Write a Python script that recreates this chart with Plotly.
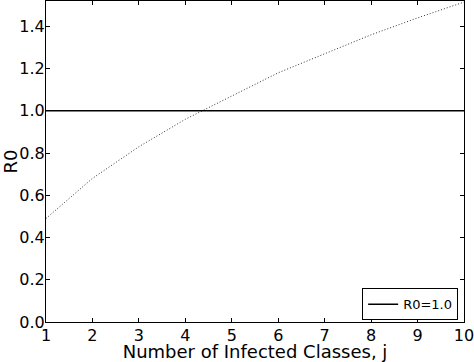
import plotly.graph_objects as go

j_values = [1, 2, 3, 4, 5, 6, 7, 8, 9, 10]
r0_values = [0.49, 0.68, 0.83, 0.96, 1.07, 1.18, 1.27, 1.36, 1.44, 1.515]
threshold = 1.0
x_ticks = [1, 2, 3, 4, 5, 6, 7, 8, 9, 10]
y_ticks = [0.0, 0.2, 0.4, 0.6, 0.8, 1.0, 1.2, 1.4]
y_tick_labels = ["0.0", "0.2", "0.4", "0.6", "0.8", "1.0", "1.2", "1.4"]

fig = go.Figure()
fig.add_trace(go.Scatter(
    x=j_values, y=r0_values, mode="lines",
    line=dict(color="#333333", width=1, dash="1px,2px"),
    showlegend=False, hoverinfo="skip"))
fig.add_trace(go.Scatter(
    x=[j_values[0], j_values[-1]], y=[threshold, threshold], mode="lines",
    line=dict(color="black", width=1.5),
    name="R0=1.0"))

fig.update_layout(
    width=474, height=362,
    margin=dict(l=46, r=10, t=1, b=40, autoexpand=False),
    paper_bgcolor="white", plot_bgcolor="white",
    font=dict(family="DejaVu Sans", size=16, color="black"),
    showlegend=True,
    legend=dict(x=0.986, y=0.005, xanchor="right", yanchor="bottom",
                bordercolor="black", borderwidth=1, bgcolor="white",
                font=dict(family="DejaVu Sans", size=13, color="black"),
                itemwidth=30, tracegroupgap=0),
    xaxis=dict(range=[1, 10], tickvals=x_ticks, ticktext=[str(v) for v in x_ticks],
               ticks="inside", ticklen=4, tickcolor="black",
               showline=True, linecolor="black", linewidth=1, mirror="ticks",
               showgrid=False, zeroline=False, automargin=False,
               ticklabeloverflow="allow", ticklabelstandoff=-1,
               title=dict(text="Number of Infected Classes, j", standoff=2,
                          font=dict(family="DejaVu Sans", size=18)),
               tickfont=dict(family="DejaVu Sans", size=16)),
    yaxis=dict(range=[0, 1.52], tickvals=y_ticks, ticktext=y_tick_labels,
               ticks="inside", ticklen=4, tickcolor="black",
               showline=True, linecolor="black", linewidth=1, mirror="ticks",
               showgrid=False, zeroline=False, automargin=False,
               ticklabeloverflow="allow", ticklabelstandoff=-3,
               title=dict(text="R0", standoff=0,
                          font=dict(family="DejaVu Sans", size=18)),
               tickfont=dict(family="DejaVu Sans", size=16)),
)

fig.write_html("out.html",
               config={"displayModeBar": False},
               post_script="document.body.style.margin='0';document.body.style.overflow='hidden';")
